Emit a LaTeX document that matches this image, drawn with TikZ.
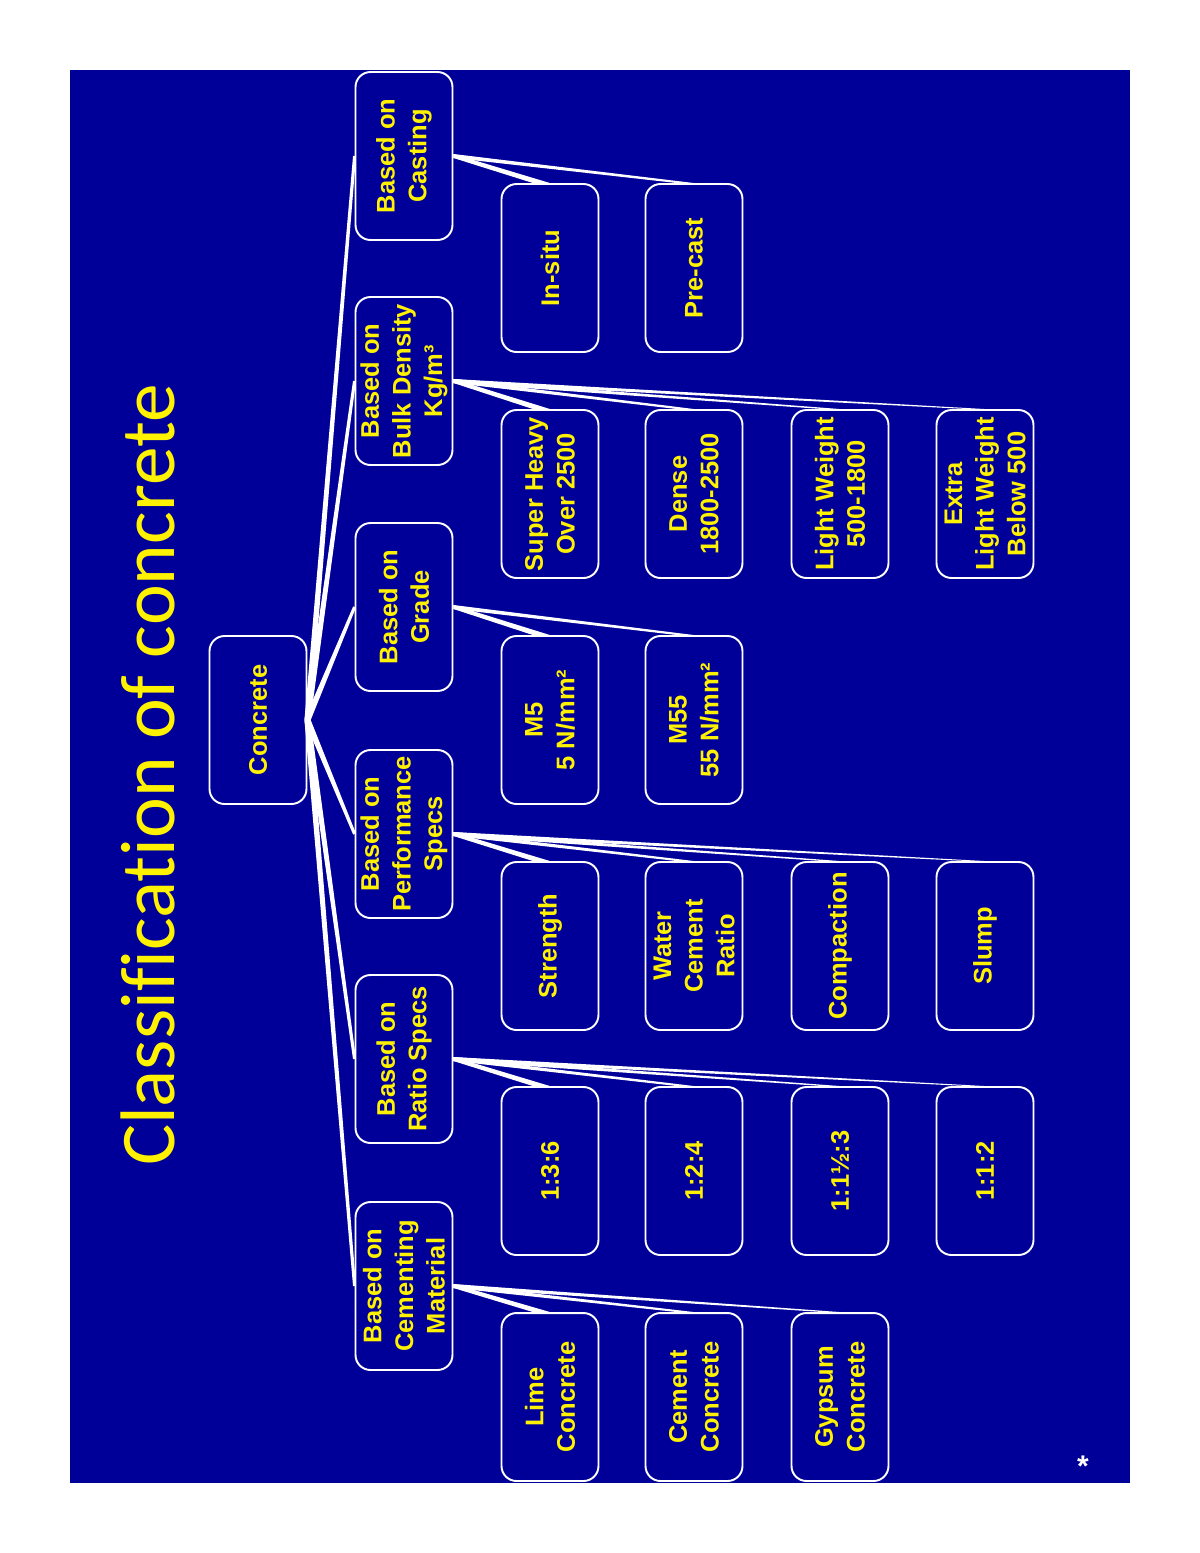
\documentclass[tikz,border=0pt]{standalone}
\usepackage{fontspec}
\setmainfont{Liberation Sans}
\newfontfamily\titlefont[Ligatures=NoCommon]{Carlito}
\usetikzlibrary{calc}

\definecolor{slideblue}{RGB}{0,0,153}
\tikzset{
  box/.style={draw=white, line width=1.1pt, rounded corners=0.3cm, rotate=90,
    minimum width=3.36cm, minimum height=1.94cm, inner sep=0pt, align=center,
    text=yellow, font=\bfseries\fontsize{14.5}{18}\selectfont}
}
% wedge from Concrete to a group box
\newcommand{\spoke}[2]{\fill[white] ($(#1)!0.06cm!90:(#2)$) -- ($(#2)!0.03cm!-90:(#1)$) -- ($(#2)!0.03cm!90:(#1)$) -- ($(#1)!0.06cm!-90:(#2)$) -- cycle;}
% wedge from a group box to one of its items
\newcommand{\branch}[2]{\fill[white] ($(#1)+(0,-2)$) -- (#2) -- ($(#2)+(-17,0)$) -- ($(#1)+(0,2)$) -- cycle;}

\begin{document}
\begin{tikzpicture}[x=0.02cm, y=-0.02cm]
	\useasboundingbox (0,0) rectangle (1200,1553);
	\fill[white] (0,0) rectangle (1200,1553);
	\fill[slideblue] (70,70) rectangle (1130,1483);

	\node[rotate=90, text=yellow, font=\titlefont\fontsize{44}{50}\selectfont, inner sep=0pt] (title) at (148,775) {Classification of concrete};

	\node[box] (conc) at (258,720) {Concrete};

	% groups
	\node[box] (cem) at (404,1286) {Based on\\Cementing\\Material};
	\node[box] (ratio) at (404,1059) {Based on\\Ratio Specs};
	\node[box] (perf) at (404,834) {Based on\\Performance\\Specs};
	\node[box] (grade) at (404,607) {Based on\\Grade};
	\node[box] (bulk) at (404,381) {Based on\\Bulk Density\\Kg/m³};
	\node[box] (cast) at (404,156) {Based on\\Casting};

	% items
	\node[box] (lime) at (550,1397) {Lime\\Concrete};
	\node[box] (cement) at (694,1397) {Cement\\Concrete};
	\node[box] (gypsum) at (840,1397) {Gypsum\\Concrete};

	\node[box] (r136) at (550,1171) {1:3:6};
	\node[box] (r124) at (694,1171) {1:2:4};
	\node[box] (r1153) at (840,1171) {1:1½:3};
	\node[box] (r112) at (985,1171) {1:1:2};

	\node[box] (strength) at (550,946) {Strength};
	\node[box] (wcr) at (694,946) {Water\\Cement\\Ratio};
	\node[box] (compact) at (840,946) {Compaction};
	\node[box] (slump) at (985,946) {Slump};

	\node[box] (m5) at (550,720) {M5\\5 N/mm²};
	\node[box] (m55) at (694,720) {M55\\55 N/mm²};

	\node[box] (heavy) at (550,494) {Super Heavy\\Over 2500};
	\node[box] (dense) at (694,494) {Dense\\1800-2500};
	\node[box] (light) at (840,494) {Light Weight\\500-1800};
	\node[box] (xlight) at (985,494) {Extra\\Light Weight\\Below 500};

	\node[box] (insitu) at (550,268) {In-situ};
	\node[box] (precast) at (694,268) {Pre-cast};

	\node[text=white, font=\bfseries\fontsize{17}{17}\selectfont, inner sep=0pt] (star) at (1083,1466) {*};

	\foreach \g in {cem, ratio, perf, grade, bulk, cast}
		\spoke{conc.south}{\g.north};

	\foreach \g/\i in {cem/lime, cem/cement, cem/gypsum,
		ratio/r136, ratio/r124, ratio/r1153, ratio/r112,
		perf/strength, perf/wcr, perf/compact, perf/slump,
		grade/m5, grade/m55,
		bulk/heavy, bulk/dense, bulk/light, bulk/xlight,
		cast/insitu, cast/precast}
		\branch{\g.south}{\i.east};
\end{tikzpicture}
\end{document}
